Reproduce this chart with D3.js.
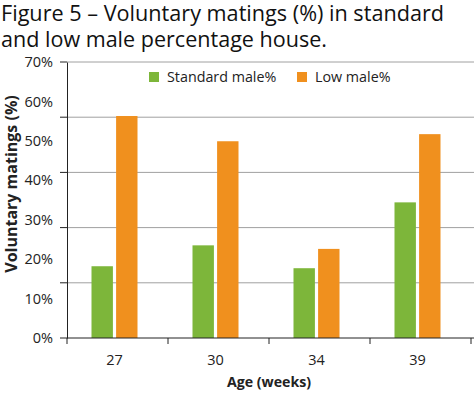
<!DOCTYPE html>
<html>
<head>
<meta charset="utf-8">
<script src="https://cdn.jsdelivr.net/npm/d3@7"></script>
<style>
  body { margin: 0; background: #fff; }
  svg { font-family: "Open Sans", sans-serif; }
</style>
</head>
<body>
<svg id="chart" width="474" height="394"></svg>
<script>
// chart data
const ages = ["27", "30", "34", "39"];
const series = ["Standard male%", "Low male%"];
const standardMale = [18.2, 23.5, 17.7, 34.4];
const lowMale = [56.3, 49.9, 22.6, 51.7];
const yLabels = [0, 10, 20, 30, 40, 50, 60, 70];
const gridValues = [0, 14, 28, 42, 56, 70]; // gridlines don't line up with labels in the original
const colors = ["#7db63a", "#f0901e"];

const svg = d3.select("#chart");
const margin = { left: 67, right: 3, top: 62, bottom: 56 };
const width = 474, height = 394;

const x0 = d3.scaleBand().domain(ages).range([margin.left, width - margin.right]);
const x1 = d3.scaleBand().domain(series)
    .range([x0.bandwidth() / 2 - 26, x0.bandwidth() / 2 + 20])
    .paddingInner(0.13);
const y = d3.scaleLinear().domain([0, 70]).range([height - margin.bottom, margin.top]);

// title
const title = svg.append("text").attr("x", 1).attr("y", 20.5)
    .attr("font-size", 21).attr("fill", "#111");
title.append("tspan").attr("x", 1).attr("textLength", 443).attr("lengthAdjust", "spacingAndGlyphs")
    .text("Figure 5 – Voluntary matings (%) in standard");
title.append("tspan").attr("x", 1).attr("dy", 26).attr("textLength", 326).attr("lengthAdjust", "spacingAndGlyphs")
    .text("and low male percentage house.");

// gridlines
svg.append("g").selectAll("line")
    .data(gridValues.slice(1))
    .join("line")
    .attr("x1", margin.left).attr("x2", width)
    .attr("y1", d => y(d)).attr("y2", d => y(d))
    .attr("stroke", "#a0a0a0").attr("stroke-width", 1);

// y tick marks (at grid positions)
svg.append("g").selectAll("line")
    .data(gridValues)
    .join("line")
    .attr("x1", margin.left - 7).attr("x2", margin.left)
    .attr("y1", d => y(d)).attr("y2", d => y(d))
    .attr("stroke", "#222");

// y labels
const yAxis = svg.append("g")
    .attr("transform", `translate(${margin.left},0)`)
    .call(d3.axisLeft(y).tickValues(yLabels).tickSize(0).tickPadding(14).tickFormat(d => d + "%"));
yAxis.select(".domain").attr("stroke", "#222");
yAxis.selectAll("text").attr("font-size", 14.5).attr("fill", "#222")
    .attr("font-family", "Open Sans, sans-serif");

// bars
const data = ages.map((a, i) => ({ age: a, values: [standardMale[i], lowMale[i]] }));
svg.append("g").selectAll("g")
    .data(data)
    .join("g")
    .attr("transform", d => `translate(${x0(d.age)},0)`)
    .selectAll("rect")
    .data(d => d.values.map((v, j) => ({ key: series[j], value: v, c: colors[j] })))
    .join("rect")
    .attr("x", d => x1(d.key))
    .attr("width", x1.bandwidth())
    .attr("y", d => y(d.value))
    .attr("height", d => y(0) - y(d.value))
    .attr("fill", d => d.c);

// x axis
const xAxis = svg.append("g")
    .attr("transform", `translate(0,${y(0)})`)
    .call(d3.axisBottom(x0).tickSize(0).tickPadding(17));
xAxis.select(".domain").remove();
xAxis.selectAll("text").attr("font-size", 14.5).attr("fill", "#222")
    .attr("font-family", "Open Sans, sans-serif")
    .attr("dx", -3);
svg.append("line")
    .attr("x1", margin.left).attr("x2", width)
    .attr("y1", y(0)).attr("y2", y(0)).attr("stroke", "#222");
// tick marks between categories
svg.append("g").selectAll("line")
    .data(ages.map(a => x0(a)).concat([x0.range()[1]]))
    .join("line")
    .attr("x1", d => d).attr("x2", d => d)
    .attr("y1", y(0)).attr("y2", y(0) + 6)
    .attr("stroke", "#222");

// axis titles
svg.append("text")
    .attr("x", (margin.left + width - margin.right) / 2).attr("y", 387)
    .attr("text-anchor", "middle").attr("font-size", 14.2).attr("font-weight", "bold")
    .attr("fill", "#222").text("Age (weeks)");
svg.append("text")
    .attr("transform", "translate(17,184) rotate(-90)")
    .attr("text-anchor", "middle").attr("font-size", 16).attr("font-weight", "bold")
    .attr("fill", "#222").text("Voluntary matings (%)");

// legend
const legend = svg.append("g").selectAll("g")
    .data(series)
    .join("g")
    .attr("transform", (d, i) => `translate(${[149, 297][i]},72)`);
legend.append("rect").attr("width", 10).attr("height", 10).attr("fill", (d, i) => colors[i]);
legend.append("text").attr("x", 18).attr("y", 9.5)
    .attr("font-size", 14.3).attr("fill", "#222").text(d => d);
</script>
</body>
</html>
